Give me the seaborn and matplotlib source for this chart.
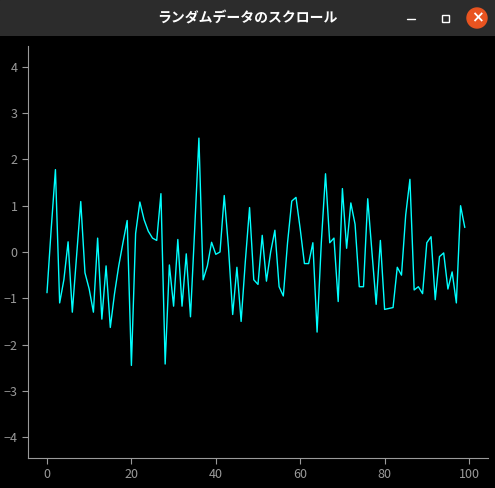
import numpy as np
import pandas as pd
import matplotlib
matplotlib.use("Agg")
import matplotlib.pyplot as plt
import matplotlib.patches as mpatches
import seaborn as sns

title = "ランダムデータのスクロール"
values = [
    -0.88, 0.5, 1.78, -1.1, -0.6, 0.22, -1.3, -0.1, 1.09, -0.45,
    -0.8, -1.3, 0.3, -1.45, -0.3, -1.63, -0.9, -0.3, 0.2, 0.68,
    -2.45, 0.4, 1.08, 0.7, 0.45, 0.3, 0.25, 1.26, -2.42, -0.28,
    -1.17, 0.27, -1.17, -0.04, -1.4, 0.5, 2.46, -0.6, -0.3, 0.21,
    -0.05, 0.0, 1.22, 0.1, -1.35, -0.33, -1.5, -0.2, 0.96, -0.6,
    -0.7, 0.36, -0.63, 0.0, 0.47, -0.75, -0.95, 0.2, 1.1, 1.18,
    0.5, -0.25, -0.25, 0.2, -1.73, 0.2, 1.69, 0.2, 0.3, -1.07,
    1.37, 0.08, 1.06, 0.6, -0.75, -0.75, 1.15, 0.0, -1.13, 0.25,
    -1.24, -1.22, -1.2, -0.33, -0.5, 0.8, 1.57, -0.82, -0.75, -0.9,
    0.2, 0.33, -1.03, -0.1, -0.02, -0.8, -0.43, -1.1, 1.0, 0.53,
]
x_ticks = [0, 20, 40, 60, 80, 100]
y_ticks = [-4, -3, -2, -1, 0, 1, 2, 3, 4]

df = pd.DataFrame({"x": np.arange(len(values)), "y": values})

sns.set_style("dark")
plt.rcParams["font.family"] = ["Noto Sans CJK JP", "DejaVu Sans"]

W, H = 495, 488
fig = plt.figure(figsize=(W / 100, H / 100), dpi=100, facecolor="black")

# window title bar
bar = fig.add_axes([0, 1 - 36 / H, 1, 36 / H])
bar.set_xlim(0, W)
bar.set_ylim(0, 36)
bar.axis("off")
bar.add_patch(mpatches.Rectangle((0, 0), W, 36, color="#2c2c2c"))
bar.text(247, 18, title, color="white", fontsize=10, fontweight="bold", ha="center", va="center")
bar.plot([407, 415], [17, 17], color="white", lw=1)
bar.add_patch(mpatches.Rectangle((442, 14), 7, 7, fill=False, ec="white", lw=1))
bar.add_patch(mpatches.Circle((477, 18), 10, color="#e95420"))
bar.text(477, 18, "×", color="white", fontsize=11, fontweight="bold", ha="center", va="center",
         family="DejaVu Sans")

ax = fig.add_axes([28 / W, 30 / H, 460 / W, 412 / H])
ax.set_facecolor("black")
sns.lineplot(data=df, x="x", y="y", ax=ax, color="#00ffff", linewidth=1)
ax.set_xlim(-4.5, 104.5)
ax.set_ylim(-4.45, 4.45)
ax.set_xticks(x_ticks)
ax.set_yticks(y_ticks)
ax.set_xlabel("")
ax.set_ylabel("")
ax.grid(False)
ax.tick_params(colors="#9a9a9a", labelsize=9, length=4, direction="out", left=True, bottom=True)
for s in ["top", "right"]:
    ax.spines[s].set_visible(False)
for s in ["left", "bottom"]:
    ax.spines[s].set_color("#9a9a9a")
    ax.spines[s].set_linewidth(0.8)

fig.savefig("out.png", dpi=100, facecolor="black")
